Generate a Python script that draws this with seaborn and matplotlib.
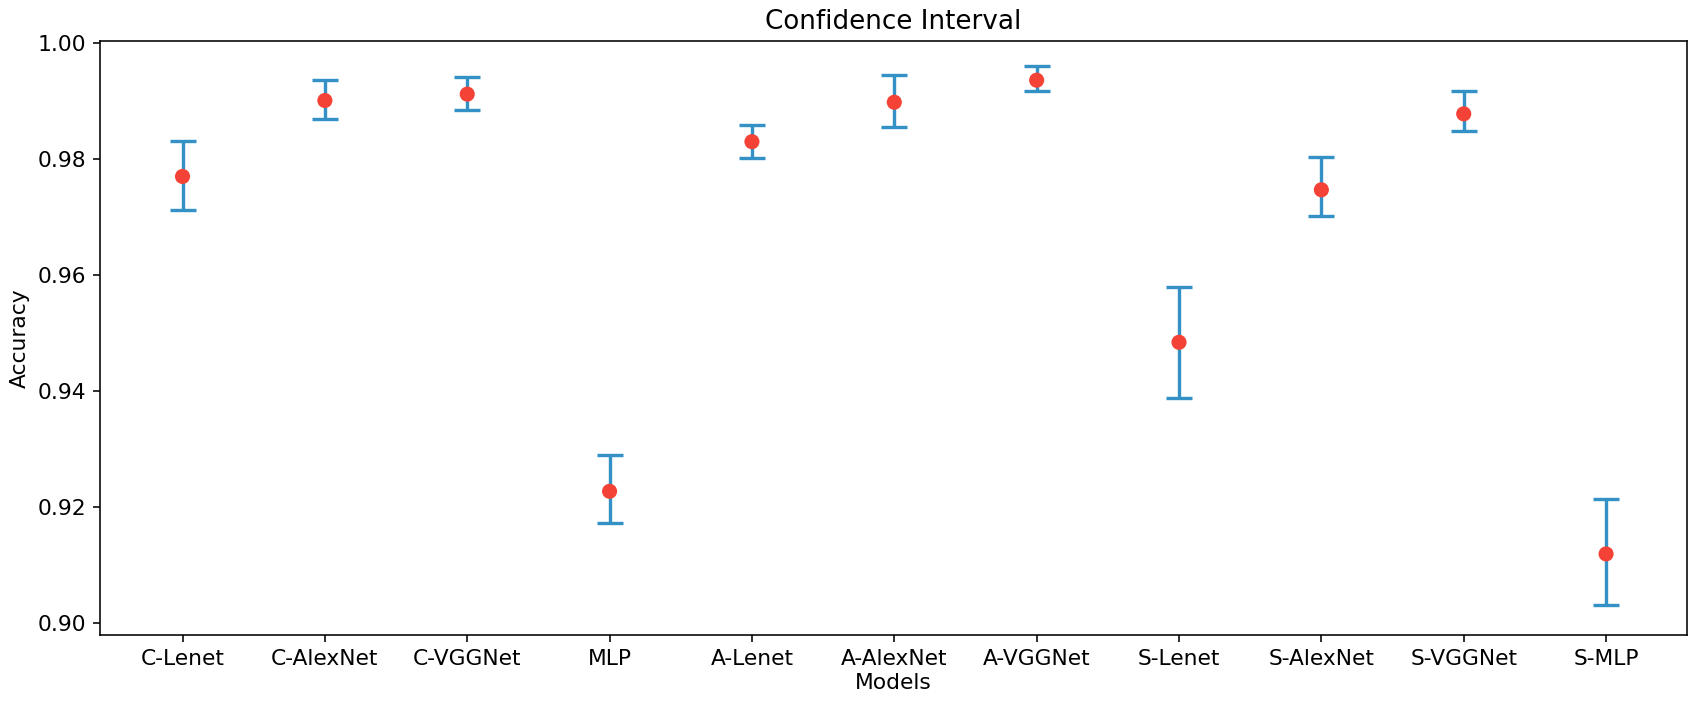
import numpy as np
import pandas as pd
import matplotlib
matplotlib.use("Agg")
import matplotlib.pyplot as plt
import seaborn as sns

# values
models = ["C-Lenet", "C-AlexNet", "C-VGGNet", "MLP", "A-Lenet", "A-AlexNet",
          "A-VGGNet", "S-Lenet", "S-AlexNet", "S-VGGNet", "S-MLP"]
accuracy = [0.9770, 0.9901, 0.9912, 0.9227, 0.9830, 0.9898,
            0.9936, 0.9484, 0.9747, 0.9878, 0.9119]
lower = [0.9712, 0.98695, 0.9885, 0.9173, 0.9802, 0.9855,
         0.9918, 0.9388, 0.9701, 0.9848, 0.9031]
upper = [0.9832, 0.99368, 0.9941, 0.9289, 0.9859, 0.9945,
         0.9960, 0.9580, 0.9803, 0.9918, 0.9214]

df = pd.DataFrame({"Model": models, "Accuracy": accuracy,
                   "Lower": lower, "Upper": upper})

plt.rcParams["font.size"] = 11

dpi = 142.86
fig = plt.figure(figsize=(1694 / dpi, 701 / dpi), dpi=dpi)
ax = fig.add_axes([0.059, 0.094, 0.937, 0.847])

# confidence interval bars
yerr = np.array([df["Accuracy"] - df["Lower"], df["Upper"] - df["Accuracy"]])
ax.errorbar(df["Model"], df["Accuracy"], yerr=yerr, fmt="none",
            ecolor="#3391c6", elinewidth=1.7, capsize=6.5, capthick=1.7, zorder=2)

# mean points
sns.scatterplot(data=df, x="Model", y="Accuracy", color="#f44336", s=58,
                edgecolor="none", zorder=3, ax=ax)

ax.set_xlim(-0.58, 10.57)
ax.set_ylim(0.8979, 1.0003)
ax.set_yticks([0.90, 0.92, 0.94, 0.96, 0.98, 1.00])
ax.set_title("Confidence Interval")
ax.set_xlabel("Models", labelpad=2)
ax.set_ylabel("Accuracy")

fig.savefig("out.png", dpi=dpi)
